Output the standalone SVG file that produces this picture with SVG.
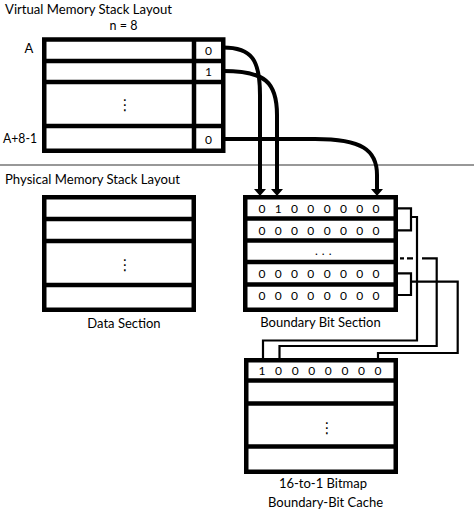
<svg xmlns="http://www.w3.org/2000/svg" width="474" height="514" viewBox="0 0 474 514">
<style>
.t{font-family:Lato,"Noto Sans","Liberation Sans",sans-serif;font-size:13px;fill:#000}
.d{font-family:Lato,"Noto Sans","Liberation Sans",sans-serif;font-size:12px;fill:#000}
.v{font-family:"DejaVu Sans",sans-serif;font-size:15px;fill:#000}
.box{fill:#fff;stroke:#000;stroke-width:4.5}
.div{stroke:#000;stroke-width:4.5}
.arr{fill:none;stroke:#000;stroke-width:4}
.thin{fill:none;stroke:#000;stroke-width:2.2}
</style>
<defs>
<marker id="ah" markerUnits="userSpaceOnUse" markerWidth="7" markerHeight="12" viewBox="0 0 7 12" refX="0" refY="6" orient="auto">
<path d="M0,0 L7,6 L0,12 Z" fill="#000"/>
</marker>
</defs>
<rect width="474" height="514" fill="#fff"/>

<text class="t" x="5" y="14" textLength="167" lengthAdjust="spacingAndGlyphs">Virtual Memory Stack Layout</text>
<text class="t" x="123.5" y="30" text-anchor="middle" style="font-size:12.5px">n = 8</text>
<line x1="0" y1="165" x2="474" y2="165" stroke="#333" stroke-width="1.2"/>
<text class="t" x="5" y="184" textLength="175" lengthAdjust="spacingAndGlyphs">Physical Memory Stack Layout</text>

<g id="virtual">
<rect class="box" x="44.25" y="39.5" width="179" height="111.25"/>
<line class="div" x1="44" y1="61" x2="223" y2="61"/>
<line class="div" x1="44" y1="82" x2="223" y2="82"/>
<line class="div" x1="44" y1="126" x2="223" y2="126"/>
<line class="div" x1="194" y1="39" x2="194" y2="151"/>
<text class="t" x="29" y="53" text-anchor="middle">A</text>
<text class="t" x="3" y="143" textLength="34" lengthAdjust="spacingAndGlyphs">A+8-1</text>
<text class="d" x="208.5" y="55" text-anchor="middle">0</text>
<text class="d" x="208.5" y="76" text-anchor="middle">1</text>
<text class="d" x="208.5" y="144" text-anchor="middle">0</text>
<text class="v" x="125" y="110" text-anchor="middle">⋮</text>
</g>

<g id="data">
<rect class="box" x="44.25" y="197.25" width="149.5" height="112.5"/>
<line class="div" x1="44" y1="219" x2="194" y2="219"/>
<line class="div" x1="44" y1="241" x2="194" y2="241"/>
<line class="div" x1="44" y1="285" x2="194" y2="285"/>
<text class="v" x="125" y="270" text-anchor="middle">⋮</text>
<text class="t" x="124" y="328" text-anchor="middle">Data Section</text>
</g>

<g id="boundary">
<rect class="box" x="245.25" y="197.25" width="150.5" height="112.5"/>
<line class="div" x1="245" y1="218.5" x2="396" y2="218.5"/>
<line class="div" x1="245" y1="240.5" x2="396" y2="240.5"/>
<line class="div" x1="245" y1="262" x2="396" y2="262"/>
<line class="div" x1="245" y1="284.5" x2="396" y2="284.5"/>
<text class="d" x="258.5" y="213" textLength="121" lengthAdjust="spacing">0 1 0 0 0 0 0 0</text>
<text class="d" x="258.5" y="235" textLength="121" lengthAdjust="spacing">0 0 0 0 0 0 0 0</text>
<text class="d" x="315" y="255" letter-spacing="4">...</text>
<text class="d" x="258.5" y="278" textLength="121" lengthAdjust="spacing">0 0 0 0 0 0 0 0</text>
<text class="d" x="258.5" y="300" textLength="121" lengthAdjust="spacing">0 0 0 0 0 0 0 0</text>
<text class="t" x="320.5" y="327" text-anchor="middle">Boundary Bit Section</text>
</g>

<g id="cache">
<rect class="box" x="246.25" y="360.25" width="149.5" height="111.5"/>
<line class="div" x1="246" y1="380.5" x2="396" y2="380.5"/>
<line class="div" x1="246" y1="403.5" x2="396" y2="403.5"/>
<line class="div" x1="246" y1="446.5" x2="396" y2="446.5"/>
<text class="d" x="258.5" y="375" textLength="123" lengthAdjust="spacing">1 0 0 0 0 0 0 0</text>
<text class="v" x="327" y="433" text-anchor="middle">⋮</text>
<text class="t" x="323" y="488" text-anchor="middle">16-to-1 Bitmap</text>
<text class="t" x="325.5" y="507" text-anchor="middle">Boundary-Bit Cache</text>
</g>

<g id="connectors">
<path class="arr" d="M223,47.5 C252,47.5 260,60 260,95 L260,189" marker-end="url(#ah)"/>
<path class="arr" d="M223,71 C265,71 277,82 277,115 L277,189" marker-end="url(#ah)"/>
<path class="arr" d="M223,139 L315,139 C362,139 377,150 377,175 L377,189" marker-end="url(#ah)"/>
<path class="thin" d="M397,208.3 H411 V230.3 H397"/>
<path class="thin" d="M411,217 H417 V340.5 H263 V359"/>
<path class="thin" d="M397,273.3 H411 V295 H397"/>
<path class="thin" d="M411,281.7 H457.7 V353 H378 V359"/>
<path class="thin" d="M400,258.3 H404 M407,258.3 H413 M422,258.3 H436.7 V346 H279.5 V359"/>
</g>
</svg>
